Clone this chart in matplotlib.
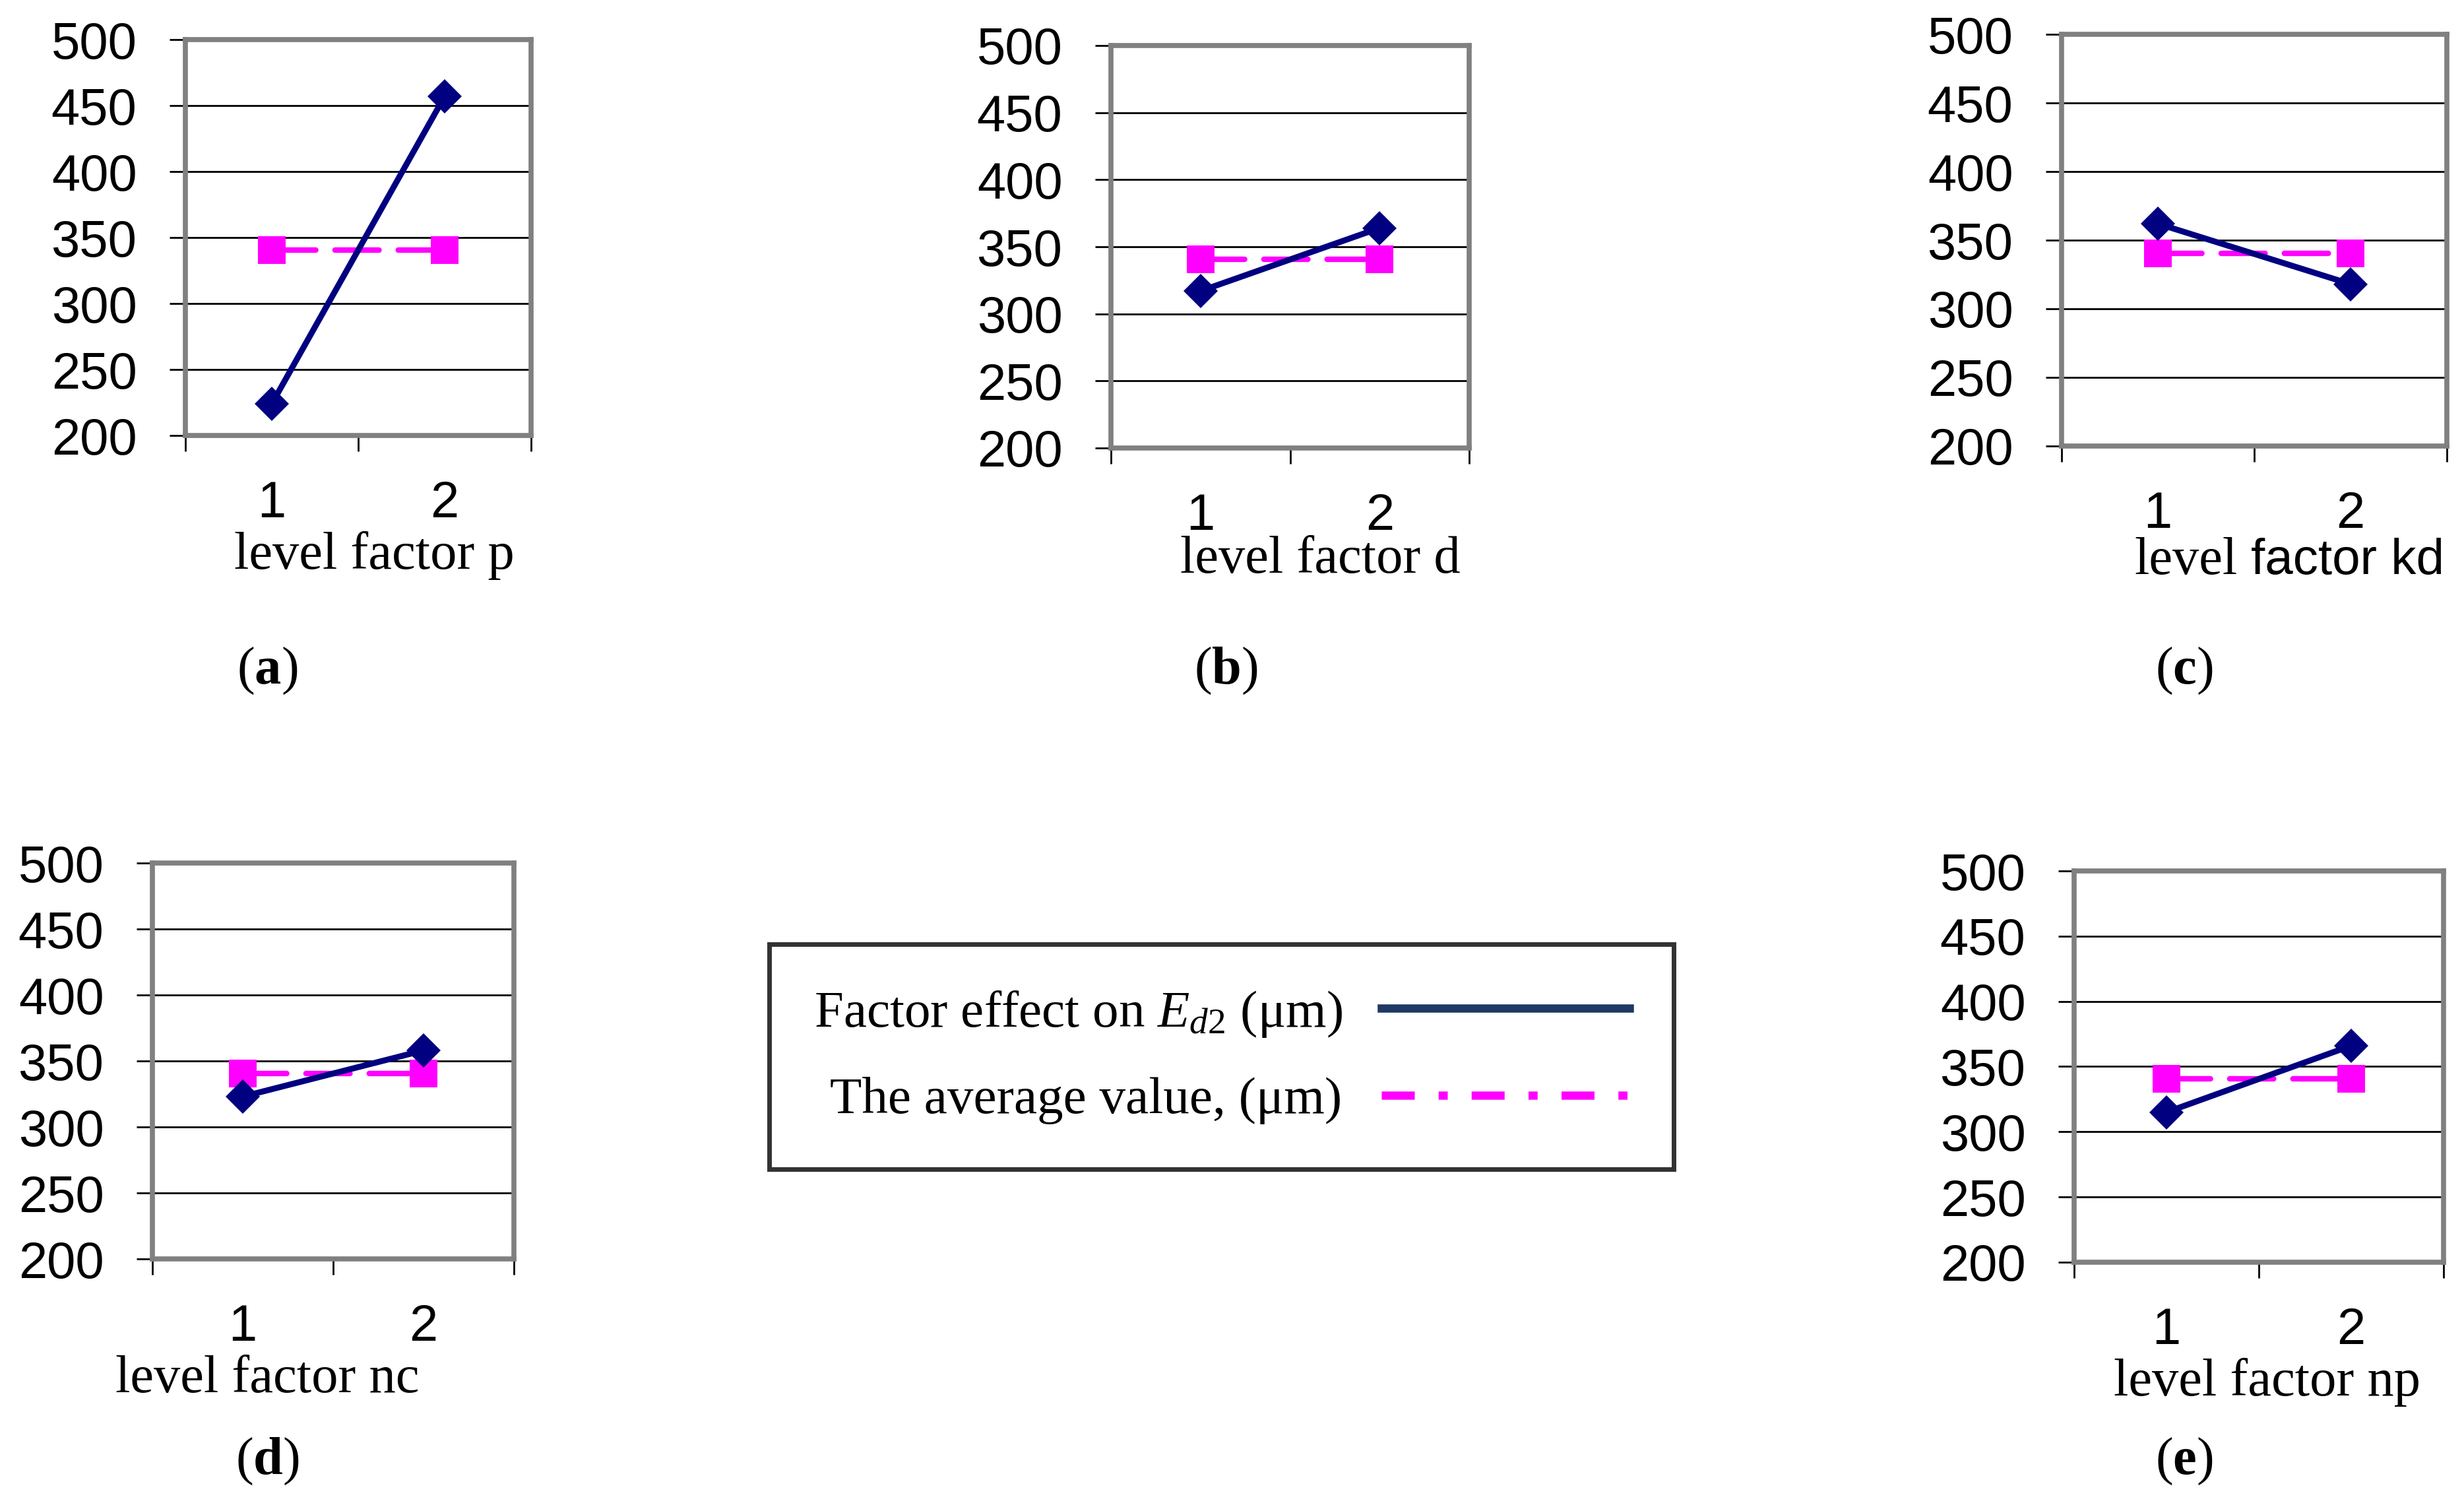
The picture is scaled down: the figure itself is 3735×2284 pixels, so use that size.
import matplotlib
matplotlib.use("Agg")
import matplotlib.pyplot as plt
from matplotlib.lines import Line2D

# Data
levels = [1, 2]
effect_p = [224, 457]
effect_d = [317, 364]
effect_kd = [362, 318]
effect_nc = [323, 358]
effect_np = [315, 366]
average_value = [340.5, 340.5]
y_ticks = [200, 250, 300, 350, 400, 450, 500]
tick_labels = ["1", "2"]

navy = "#000080"
magenta = "#FF00FF"
grey = "#808080"

plt.rcParams["mathtext.fontset"] = "custom"
plt.rcParams["mathtext.rm"] = "Liberation Serif"
plt.rcParams["mathtext.it"] = "Liberation Serif:italic"
plt.rcParams["mathtext.bf"] = "Liberation Serif:bold"

W, H = 3735, 2284
fig = plt.figure(figsize=(W / 100, H / 100), dpi=100)


def px_box(left, right, top, bottom):
    return [left / W, 1 - bottom / H, (right - left) / W, (bottom - top) / H]


def panel(box, values):
    ax = fig.add_axes(box)
    ax.plot(levels, values, color=navy, lw=6.5, marker="D", ms=26, mew=0, zorder=4)
    ax.plot(levels, average_value, color=magenta, lw=6, marker="s", ms=30, mew=0,
            dashes=(8, 3.5), dash_capstyle="round", zorder=3)
    ax.set_xlim(0.5, 2.5)
    ax.set_ylim(200, 500)
    ax.set_yticks(y_ticks)
    for y in y_ticks[1:-1]:
        ax.axhline(y, color="black", lw=2, zorder=1)
    ax.set_xticks([0.5, 1.5, 2.5])
    ax.set_xticklabels([])
    ax.set_xticks(levels, minor=True)
    ax.set_xticklabels(tick_labels, minor=True)
    ax.tick_params(axis="y", length=17, width=2, pad=36, labelsize=56,
                   labelfontfamily="Liberation Sans", direction="out")
    ax.tick_params(axis="x", which="major", length=17, width=2, direction="out")
    ax.tick_params(axis="x", which="minor", length=0, pad=48, labelsize=56,
                   labelfontfamily="Liberation Sans")
    for s in ax.spines.values():
        s.set_color(grey)
        s.set_linewidth(5.5)
    return ax


serif = "Liberation Serif"
sans = "Liberation Sans"

panel(px_box(281, 805, 60, 660), effect_p)
panel(px_box(1684, 2227, 69, 679), effect_d)
panel(px_box(3125, 3709, 52, 676), effect_kd)
panel(px_box(231, 779, 1308, 1908), effect_nc)
panel(px_box(3144, 3704, 1320, 1913), effect_np)

# axis titles
fig.text(567 / W, 1 - 862 / H, "level factor p", family=serif, size=58, ha="center", va="baseline")
fig.text(2001 / W, 1 - 868 / H, "level factor d", family=serif, size=58, ha="center", va="baseline")
fig.text(3392 / W, 1 - 870 / H, "level", family=serif, size=58, ha="right", va="baseline")
fig.text(3412 / W, 1 - 870 / H, "factor kd", family=sans, size=55, ha="left", va="baseline")
fig.text(405 / W, 1 - 2110 / H, "level factor nc", family=serif, size=58, ha="center", va="baseline")
fig.text(3437 / W, 1 - 2115 / H, "level factor np", family=serif, size=58, ha="center", va="baseline")

# panel letters
for x, y, letter in [(405, 1017, "a"), (1858, 1017, "b"), (3311, 1017, "c"),
                     (405, 2215, "d"), (3311, 2215, "e")]:
    fig.text(x / W, 1 - y / H, "(" + r"$\mathbf{" + letter + "}$" + ")",
             family=serif, size=58, ha="center", va="center")

# legend
handles = [
    Line2D([], [], color="#1F3864", lw=9),
    Line2D([], [], color=magenta, lw=9, dashes=(4, 2.9, 1.1, 2.9)),
]
labels = [r"Factor effect on $\mathit{E}_{\mathit{d2}}$ (μm)", "The average value, (μm)"]
leg = fig.legend(handles, labels, loc="center", bbox_to_anchor=(0.4958, 0.299),
                 markerfirst=False, handlelength=4.75, handletextpad=0.75,
                 borderpad=0.85, labelspacing=0.72, fancybox=False,
                 prop={"family": serif, "size": 57})
leg.get_frame().set_edgecolor("black")
leg.get_frame().set_linewidth(5)

fig.savefig("out.png", dpi=100)
